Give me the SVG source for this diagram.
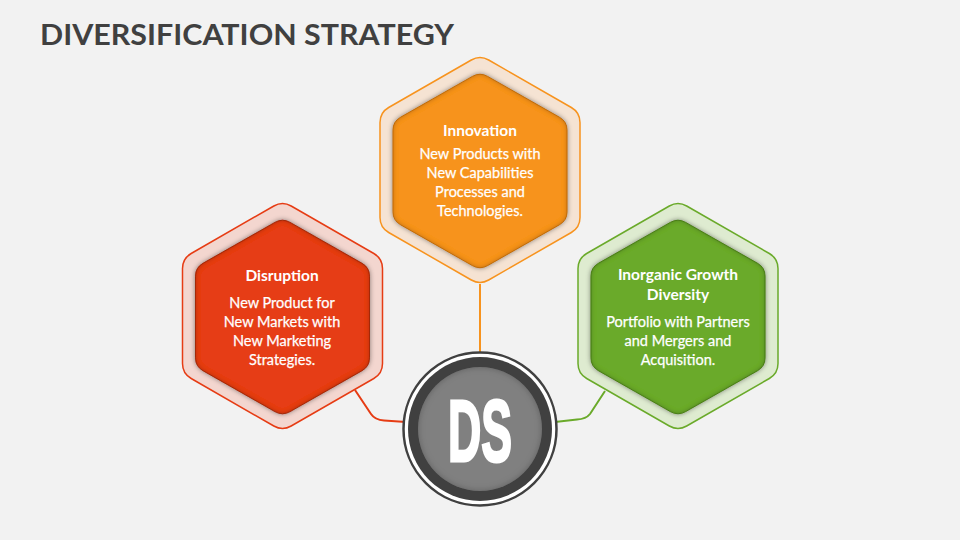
<svg xmlns="http://www.w3.org/2000/svg" xmlns:xlink="http://www.w3.org/1999/xlink" width="960" height="540" viewBox="0 0 960 540">
<style>
.title{font-family:"Lato","Liberation Sans",sans-serif;font-weight:bold;font-size:29px;fill:#404040}
.h{font-family:"Lato","Liberation Sans",sans-serif;font-weight:bold;font-size:15.5px;fill:#fff;text-anchor:middle}
.b{font-family:"Lato","Liberation Sans",sans-serif;font-size:14.5px;fill:#fff;text-anchor:middle;stroke:#fff;stroke-width:0.25}
.conn{fill:none;stroke-width:2}
</style>
<defs>
<path id="hex" d="M8.67,-110.02 L91.33,-62.48 Q100,-57.5 100,-47.5 L100,47.5 Q100,57.5 91.33,62.48 L8.67,110.02 Q0,115 -8.67,110.02 L-91.33,62.48 Q-100,57.5 -100,47.5 L-100,-47.5 Q-100,-57.5 -91.33,-62.48 L-8.67,-110.02 Q0,-115 8.67,-110.02 Z"/>
<filter id="inner" x="-20%" y="-20%" width="140%" height="140%">
<feGaussianBlur in="SourceAlpha" stdDeviation="3" result="ds"/>
<feFlood flood-color="#000" flood-opacity="0.45" result="c"/>
<feComposite in="c" in2="ds" operator="in" result="shadow"/>
<feFlood flood-color="#000" flood-opacity="0.6"/>
<feComposite in2="SourceAlpha" operator="out"/>
<feGaussianBlur stdDeviation="3"/>
<feComposite in2="SourceAlpha" operator="in" result="innershadow"/>
<feMerge><feMergeNode in="shadow"/><feMergeNode in="SourceGraphic"/><feMergeNode in="innershadow"/></feMerge>
</filter>
<filter id="cin" x="-20%" y="-20%" width="140%" height="140%">
<feFlood flood-color="#000" flood-opacity="0.5"/>
<feComposite in2="SourceAlpha" operator="out"/>
<feGaussianBlur stdDeviation="3"/>
<feComposite in2="SourceAlpha" operator="in" result="is"/>
<feMerge><feMergeNode in="SourceGraphic"/><feMergeNode in="is"/></feMerge>
</filter>
</defs>
<rect width="960" height="540" fill="#F2F2F2"/>
<text class="title" x="40" y="45" textLength="414" lengthAdjust="spacingAndGlyphs">DIVERSIFICATION STRATEGY</text>

<g id="connectors">
<path class="conn" stroke="#F7931E" d="M480,284 L480,354"/>
<path class="conn" stroke="#E63C14" d="M355,390 L371,414 Q375,420 384,420.5 L406,422"/>
<path class="conn" stroke="#6AAA2A" d="M605,391 L590,414 Q586,419 577,419.5 L555,422"/>
</g>

<g id="node-innovation">
<use xlink:href="#hex" transform="translate(480,170)" fill="#F5E3D3" stroke="#F7931E" stroke-width="1.5"/>
<use xlink:href="#hex" transform="translate(480,171) scale(0.87 0.86)" fill="#F7931E" stroke="#D9760C" stroke-width="1" filter="url(#inner)"/>
<text class="h" x="480" y="136">Innovation</text>
<text class="b" x="480" y="159">New Products with</text>
<text class="b" x="480" y="178">New Capabilities</text>
<text class="b" x="480" y="197">Processes and</text>
<text class="b" x="480" y="216">Technologies.</text>
</g>

<g id="node-disruption">
<use xlink:href="#hex" transform="translate(282.5,316)" fill="#F3D6CF" stroke="#E63C14" stroke-width="1.5"/>
<use xlink:href="#hex" transform="translate(282.5,317) scale(0.87 0.86)" fill="#E63C14" stroke="#B52C0C" stroke-width="1" filter="url(#inner)"/>
<text class="h" x="282" y="281">Disruption</text>
<text class="b" x="282" y="308">New Product for</text>
<text class="b" x="282" y="327">New Markets with</text>
<text class="b" x="282" y="346">New Marketing</text>
<text class="b" x="282" y="365">Strategies.</text>
</g>

<g id="node-inorganic">
<use xlink:href="#hex" transform="translate(678,316)" fill="#DEEBD0" stroke="#6AAA2A" stroke-width="1.5"/>
<use xlink:href="#hex" transform="translate(678,317) scale(0.87 0.86)" fill="#6AAA2A" stroke="#4E8A18" stroke-width="1" filter="url(#inner)"/>
<text class="h" x="678" y="280">Inorganic Growth</text>
<text class="h" x="678" y="300">Diversity</text>
<text class="b" x="678" y="327">Portfolio with Partners</text>
<text class="b" x="678" y="346">and Mergers and</text>
<text class="b" x="678" y="365">Acquisition.</text>
</g>

<g id="node-ds">
<circle cx="480" cy="429" r="76.5" fill="#FFFFFF" stroke="#404040" stroke-width="2.5"/>
<circle cx="480" cy="429" r="72" fill="#404040"/>
<circle cx="480" cy="429" r="62" fill="#808080" filter="url(#cin)"/>
<text x="480" y="461" text-anchor="middle" font-family="Liberation Sans, Arial, sans-serif" font-weight="bold" font-size="88" fill="#FFFFFF" stroke="#FFFFFF" stroke-width="3" stroke-linejoin="miter" textLength="64" lengthAdjust="spacingAndGlyphs">DS</text>
</g>
</svg>
